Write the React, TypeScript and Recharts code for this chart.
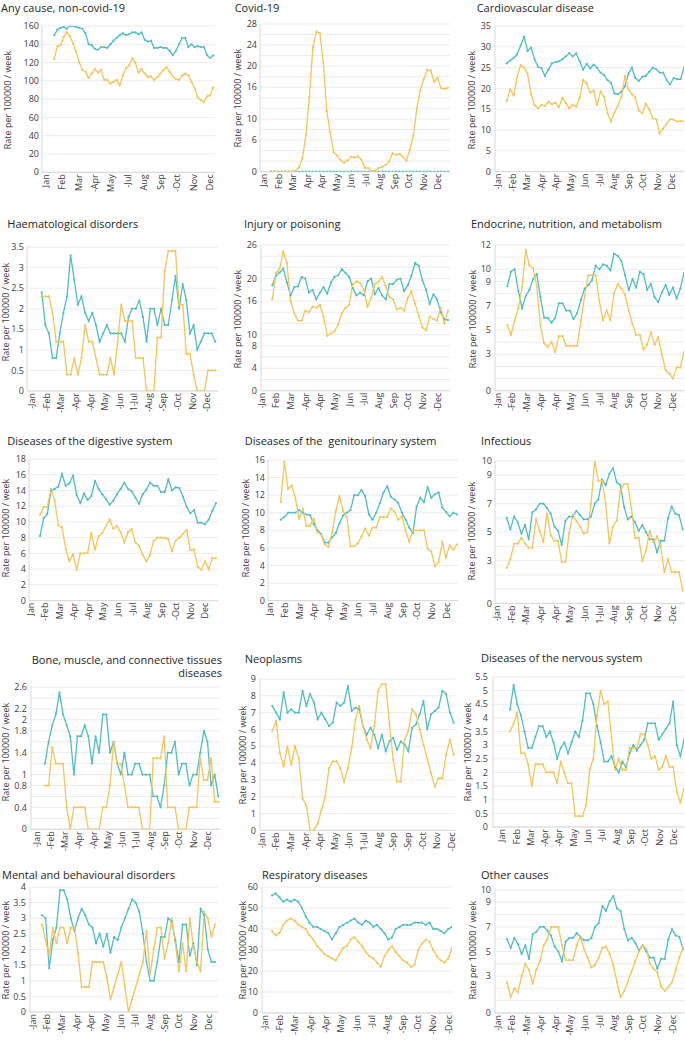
import React from "react";
import { LineChart, Line, XAxis, YAxis, CartesianGrid } from "recharts";

const TEAL = "#52BEC2";
const GOLD = "#F4C55C";
const FONT = "'Open Sans', 'Noto Sans', sans-serif";
const Y_LABEL = "Rate per 100000 / week";

// ---- data (weekly rates) ----
const anyCauseTeal = [150,156,158,159,157,160,160,159,158,157,152,140,139,135,134,137,137,136,140,144,147,150,152,150,151,153,153,151,153,145,143,144,136,136,137,136,136,133,128,133,140,147,147,137,140,137,138,137,137,128,125,128];
const anyCauseGold = [124,138,139,148,153,149,141,132,120,112,110,103,108,113,109,112,101,101,97,99,101,95,106,114,117,125,120,109,113,108,104,105,101,104,108,112,115,110,105,102,101,106,108,106,99,92,82,79,77,83,84,93];
const anyCauseTicks = [0,20,40,60,80,100,120,140,160];
const anyCauseMonths = ["Jan","Feb","Mar","-Apr","May","-Jul","Aug","Sep","-Oct","Nov","Dec"];

const covidTeal = [0,0,0,0,0,0,0,0,0,0,0,0,0,0,0,0,0,0,0,0,0,0,0,0,0,0,0,0,0,0,0,0,0,0,0,0,0,0,0,0,0,0,0,0,0,0,0,0,0,0,0,0];
const covidGold = [0,0,0,0,0,0,0,0.2,0.8,2.6,7,14.2,23.6,26.5,26.3,20.8,11.5,7.5,3.7,3.1,2.2,1.7,2.1,2.8,2.7,2.9,2.3,0.7,0.7,0.1,0.2,0.7,0.9,1.3,1.9,3.5,3.2,3.4,2.8,2.1,4.2,6.8,12,15.5,17.5,19.3,19.2,17,17.8,15.8,15.7,15.9];
const covidTicks = [0,6,10,16,20,24,28];
const covidMonths = ["Jan","Feb","Mar","Apr","Apr","May","Jun","-Jul","Aug","Sep","Oct","Nov","Dec"];

const cardioTeal = [26,26.7,27.3,28.2,30.3,32.4,29,29.8,27,25.2,24.9,23,24.5,26,26.3,26.5,27,27.7,28.5,27.7,28.4,26.5,24.5,25.9,24.8,25.7,25,23.8,23.2,22,21.3,18.8,18.6,19.2,20.5,23.5,25,22.5,21.8,22.8,23,24,25,24.6,23.8,23.8,22,21,22.5,22.2,22.2,25];
const cardioGold = [17,19.8,18.3,22.7,25.6,25,23.5,18.7,16,15.2,16,15.8,16.8,16.2,16.6,15.5,17.7,16.5,15.2,16,15.6,17.8,22,21.2,19,19.5,16,19.3,18,14,12,14.2,15.8,18,23,19.8,18.6,17.8,14.7,14,16.3,15,12.8,12.6,9.2,10.4,11.5,12.6,12.5,12,12.2,12];
const cardioTicks = [0,5,10,15,20,25,30,35];
const cardioMonths = ["-Jan","-Feb","Mar","-Apr","-Apr","May","Jun","-Jul","Aug","Sep","-Oct","Nov","Dec"];

const haemTeal = [2.4,1.6,1.4,0.8,0.8,1.4,1.9,2.3,3.3,2.7,2.1,2.3,1.9,1.7,1.9,1.6,1.2,1.4,1.6,1.4,1.4,1.4,1.4,1.2,1.8,2.0,2.0,2.2,1.8,1.2,2.0,2.0,1.6,2.0,1.6,1.6,2.2,2.8,2.0,2.6,2.2,1.4,1.6,1.0,1.2,1.4,1.4,1.4,1.2];
const haemGold = [2.3,2.3,2.3,1.9,1.2,1.2,1.2,0.4,0.4,0.8,0.4,0.8,1.6,1.2,1.2,0.8,0.4,0.4,0.4,0.8,0.4,1.2,2.1,1.7,1.7,1.7,0.8,0.8,0.8,0,0,0,1.3,1.3,2.9,3.4,3.4,3.4,2.1,2.1,0.9,0.9,0.4,0,0,0,0.5,0.5,0.5];
const haemTicks = [0,0.5,1,1.5,2,2.5,3,3.5];
const haemMonths = ["-Jan","-Feb","-Mar","-Apr","-Apr","May","-Jun","1-Jul","-Aug","-Sep","-Oct","Nov","-Dec"];

const injuryTeal = [18.8,20.5,21.1,21.8,19.3,17,18.5,18.6,20.3,20,17.5,18,16.3,17.5,18.5,17.3,19.3,20.3,20.6,21.7,21,20.3,18.3,17,17.5,17,19.5,20,17.2,18.3,17,16.3,19,19,19.8,20,17.8,18.8,20.5,22.8,22.3,19.7,18,15.5,17.2,16.3,14,12.8,12.6];
const injuryGold = [16.3,21,21.8,24.8,22.8,16,13.8,12.5,12.5,14.3,14,15,14.8,15.3,13.2,9.8,10.2,10.6,11.8,13.8,14.8,15.3,19,19.5,19.2,18,15,16.5,19,19.5,20.3,18.6,16.7,16.3,14.5,14.8,14.3,16.5,17.7,15.5,13.4,11.3,10.8,13.2,12.8,12.5,14.8,12,14.3];
const injuryTicks = [0,4,8,10,16,20,26];
const injuryMonths = ["-Jan","Feb","Mar","-Apr","-Apr","May","Jun","-Jul","Aug","Sep","-Oct","Nov","-Dec"];

const endoTeal = [8.6,9.8,10,8.2,6.8,7.8,8.3,9.2,9.6,7.7,6,6,5.6,6,7.2,7.2,6.6,6.6,5.9,6.4,7.5,8.4,8.7,9.1,10.3,10,10.4,10.3,9.9,11.3,11.1,10.7,9.5,8.3,9.2,8.5,9.8,9.6,8.3,8.8,7.7,7.3,8.1,8.7,7.9,8.5,7.6,8.4,9.7];
const endoGold = [5.4,4.6,5.8,6.8,8.5,11.6,10.3,10.1,8.6,5.4,3.9,3.6,4,3.2,4.5,4.5,3.7,3.7,3.7,3.7,5.8,7.8,9.5,9.5,9.5,7.4,5.8,6.6,5.8,8,8.8,8.4,7.9,6.6,5.5,4.6,4.6,3.4,3.8,4.8,3.8,4.4,3,1.7,1.4,1,1.9,1.9,3.2];
const endoTicks = [0,3,5,7,9,10,12];
const endoMonths = ["-Jan","-Feb","-Mar","-Apr","-Apr","May","Jun","-Jul","Aug","Sep","-Oct","Nov","-Dec"];

const digestTeal = [8.2,10.5,11,14,14.2,14.5,16.1,14.6,14.9,15.9,13.4,12.4,13.6,12.8,13.3,15.2,14.2,13.5,12.9,12.2,12.7,13.5,14.2,15,14.2,13.9,13.1,12.3,13.5,14.1,15,14.6,14.6,13.8,13.8,15.4,14,14.4,14.3,13.2,11.9,11.1,11.5,9.9,9.9,9.7,10.3,11.4,12.4];
const digestGold = [10.9,11.9,11.9,14.2,12.7,9.6,9.3,6.6,5,5.9,3.9,6,6,6.1,8.6,6.5,8.2,8.6,9.5,10.3,9.1,9.5,8.7,7.4,8.7,9.1,7.4,7,5.8,5,5.8,7.6,8,8,8,7.8,6.3,7.6,8,8.5,9,6.4,6.5,4.3,3.9,5,4,5.4,5.4];
const digestTicks = [0,2,4,6,8,10,12,14,16,18];
const digestMonths = ["Jan","-Feb","Mar","-Apr","-Apr","May","Jun","-Jul","Aug","Sep","-Oct","Nov","Dec"];

const genitoTeal = [9.2,9.5,10,10,10,10.3,10,9.8,9.7,8.7,8,7.6,6.6,6.6,7.2,7.7,8.8,9.7,10,10.3,12,12,12.6,11.9,9.8,9.2,10,11.1,12.3,13,11.8,11.5,11.1,10,9.2,8.3,7.7,10.7,11.7,11.2,12.9,11.7,12.1,12.3,10.6,10.1,9.6,10,9.8];
const genitoGold = [11.2,15.8,12.7,13.1,11.7,9.3,10.4,8.5,8.5,9.3,7.8,7.5,6.4,6.1,7.7,10.2,11.9,10.2,9.5,6.2,6.2,6.5,7.3,8.2,7.4,8.3,8.3,9.5,9.5,9.5,10.5,10.1,9.2,9.6,8,6.7,8,8,8,8,5.9,5.6,3.9,4.4,6.7,4.9,6.3,5.8,6.4];
const genitoTicks = [0,2,4,6,8,10,12,14,16];
const genitoMonths = ["Jan","Feb","Mar","-Apr","-Apr","May","Jun","-Jul","Aug","Sep","-Oct","Nov","Dec"];

const infectTeal = [6,5.2,6.1,5.7,4.9,5.5,4.5,6.4,6.6,7,7,6.7,6.3,5.4,5.1,4.1,5.8,6.1,6.1,6.5,6.2,5.9,5.9,6.1,7,7.3,8.7,8.3,9.1,9.5,8.5,8.3,6.8,5.9,6.1,5.7,5.1,5.5,5,4.5,4.5,3.6,4.4,4.4,6,6.8,6.3,6.2,5.2];
const infectGold = [2.5,3.1,4.2,4.2,4.6,4.2,3.9,3.9,5.9,5.1,4.3,6.3,4.8,4.4,4.4,2.9,2.9,4.9,6.2,5.8,5.4,4.9,5,7,10,8.6,8.6,7,4.2,5.4,5.8,7.9,8.4,8.4,6.7,4.6,4.6,3,3.7,5.1,4.3,4.7,4,2.2,3.1,2.2,2.2,2.2,0.9];
const infectTicks = [0,3,5,7,9,10];
const infectMonths = ["-Jan","-Feb","-Mar","-Apr","-Apr","May","-Jun","1-Jul","-Aug","-Sep","-Oct","Nov","-Dec"];

const boneTeal = [1.2,1.6,1.9,2.1,2.5,2.1,1.9,1.7,1,1.7,1.7,1.9,1.7,1.2,1.7,1.4,2.1,2.1,1.4,1.6,1.2,1,1.4,1,1,1.2,1.2,1,1,1,0.6,0.6,0.4,0.8,1.4,1.4,1.6,1,1.2,1.2,0.8,1,1,1.4,1.8,1.6,0.8,1,0.6];
const boneGold = [0.8,0.8,1.5,1.2,1.2,1.2,0.4,0,0.4,0.4,0.4,0.4,0,0,0,0,0.4,0.4,0.8,1.6,1.2,1.2,0.8,0.4,0.4,0.4,0.4,0,0,0,1.3,1.3,1.3,1.7,0.4,0.4,0.4,0,0,0,0.4,0.4,0.4,1.3,0.9,0.9,1.3,0.5,0.5];
const boneTicks = [0,0.4,0.8,1,1.4,1.8,2,2.2,2.6];
const boneMonths = ["-Jan","-Feb","-Mar","-Apr","-Apr","May","-Jun","1-Jul","-Aug","-Sep","-Oct","Nov","-Dec"];

const neoTeal = [7.4,7,6.6,8.2,7,7.2,7,7,8.3,7.4,8.1,7.6,6.6,7,6.6,6.2,6.4,7.6,7.4,7.6,8.6,7.1,7.3,7.2,6.2,5.7,6.1,5.7,4.9,5.7,4.7,5.3,5.5,4.8,5.3,5.1,4.7,6.1,6.3,6.9,7.7,6,6.9,7.1,7.3,8.3,8.1,7,6.4];
const neoGold = [5.9,6.5,4.6,3.8,5,3.9,5,4.3,1.9,1.5,0,0,0.4,1.2,2,3.7,4.1,4.1,3.7,2.9,3.7,4.9,6.6,7.4,6.2,5.4,4.9,6.2,8.3,8.7,8.7,6.3,4.2,2.9,2.9,5.4,5.9,7.2,6.9,6,5.1,4.3,3.4,2.6,3.1,3.1,4.5,5.4,4.5];
const neoTicks = [0,1,2,3,4,5,6,7,8,9];
const neoMonths = ["-Jan","-Feb","-Mar","-Apr","-Apr","May","-Jun","1-Jul","Aug","-Sep","-Sep","-Oct","Nov","-Dec"];

const nervTeal = [4.3,5.2,4.5,4.1,3.5,2.9,2.9,3.3,3.7,3.7,3.3,3.5,3.1,2.5,2.9,3.1,2.7,3.1,3.5,3.3,3.9,4.9,4.9,4.5,3.7,3.1,2.4,2.4,2.6,2.2,2,2.4,2.2,2.7,3,2.8,3,3.2,3.8,3.8,3.8,3.2,3.4,3.6,3.8,4.6,3,2.6,3.2];
const nervGold = [3.5,3.8,4.2,2.7,2.7,2.3,1.5,2.3,2.3,2.3,2,2,2,1.6,2.4,2,1.6,1.6,0.4,0.4,0.4,0.8,2.1,2.5,4.1,5,4.5,4.6,3.3,2.1,2.5,2.1,2.1,2.9,2.9,2.9,3.4,3.4,3,2.5,2.6,2.1,2.2,2.6,2.2,2.2,1.3,0.9,1.4];
const nervTicks = [0,0.5,1,1.5,2,2.5,3,3.5,4,4.5,5,5.5];
const nervMonths = ["Jan","Feb","Mar","-Apr","-Apr","May","Jun","-Jul","Aug","Sep","-Oct","Nov","Dec"];

const mentalTeal = [3.1,3.0,1.4,2.3,2.7,3.9,3.9,3.6,3.0,2.6,3.0,3.3,3.1,2.8,2.7,2.2,2.5,2.1,2.5,1.9,2.4,2.3,2.7,3.0,3.3,3.6,3.5,3.2,2.5,1.6,1.0,1.0,1.6,2.4,2.4,3.0,2.9,2.3,1.6,2.8,2.8,1.8,2.2,1.5,3.3,3.1,2.0,1.6,1.6];
const mentalGold = [2.8,2.3,1.8,2.7,2.2,2.7,2.7,2.2,2.7,2.7,1.9,0.8,0.8,0.8,1.6,1.6,1.6,1.6,1.1,0.4,0.8,1.2,1.6,0.8,0,0.4,0.8,1.2,1.6,2.6,1.2,2.0,2.7,2.7,1.7,2.2,3.0,2.2,1.3,2.2,1.3,3.0,2.1,1.6,1.3,3.2,3.0,2.4,2.8];
const mentalTicks = [0,0.5,1,1.5,2,2.5,3,3.5,4];
const mentalMonths = ["-Jan","-Feb","-Mar","-Apr","-Apr","May","Jun","-Jul","Aug","-Sep","Oct","Nov","Dec"];

const respTeal = [56,57,55,53,54,53,54,53,50,46,43,41,41,40,39,38,35,38,41,42,43,44,45,43,42,44,43,41,42,40,38,35,36,40,41,42,42,42,43,43,43,42,43,40,40,39,38,40,41];
const respGold = [39,37,38,42,44,45,44,42,41,40,37,35,32,30,28,27,26,25,28,31,32,35,36,34,32,29,27,26,24,22,27,30,32,29,27,25,24,22,23,30,33,35,34,30,27,25,24,26,31];
const respTicks = [0,10,20,30,40,50,60];
const respMonths = ["-Jan","-Feb","-Mar","-Apr","-Apr","May","-Jun","-Jul","-Aug","-Sep","-Oct","-Nov","-Dec"];

const otherTeal = [6,5.3,6.1,5.6,4.8,5.5,4.4,6.4,6.6,7,7,6.7,6.3,5.4,5,4.2,5.8,6.1,6.1,6.5,6.2,5.9,5.9,6.1,7,7.3,8.7,8.3,9.1,9.5,8.5,8.3,6.8,5.9,6.1,5.7,5.1,5.5,5,4.5,4.5,3.6,4.4,4.4,6,6.8,6.3,6.2,5.2];
const otherGold = [2.5,1.3,2.0,1.7,3.0,4.0,3.5,2.4,3.5,4.2,5.5,6.0,7.0,7.0,7.0,5.5,4.3,4.3,4.3,5.5,6.2,5.2,4.5,3.7,3.9,4.5,5.3,5.4,4.8,3.9,2.5,1.3,1.8,2.6,3.4,4.2,5.0,5.5,5.2,4.0,3.6,3.3,2.2,1.8,2.1,2.5,3.5,4.5,5.3];
const otherTicks = [0,3,5,7,9,10];
const otherMonths = ["-Jan","-Feb","-Mar","-Apr","-Apr","-May","-Jun","-Jul","Aug","-Sep","-Oct","-Nov","-Dec"];

const PANELS = [
  { title: ["Any cause, non-covid-19"], teal: anyCauseTeal, gold: anyCauseGold, yTicks: anyCauseTicks, months: anyCauseMonths, gridStep: 20 },
  { title: ["Covid-19"], teal: covidTeal, gold: covidGold, yTicks: covidTicks, months: covidMonths, gridStep: 2 },
  { title: ["Cardiovascular disease"], teal: cardioTeal, gold: cardioGold, yTicks: cardioTicks, months: cardioMonths, gridStep: 5 },
  { title: ["Haematological disorders"], teal: haemTeal, gold: haemGold, yTicks: haemTicks, months: haemMonths, gridStep: 0.5 },
  { title: ["Injury or poisoning"], teal: injuryTeal, gold: injuryGold, yTicks: injuryTicks, months: injuryMonths, gridStep: 2 },
  { title: ["Endocrine, nutrition, and metabolism"], teal: endoTeal, gold: endoGold, yTicks: endoTicks, months: endoMonths, gridStep: 1 },
  { title: ["Diseases of the digestive system"], teal: digestTeal, gold: digestGold, yTicks: digestTicks, months: digestMonths, gridStep: 2 },
  { title: ["Diseases of the  genitourinary system"], teal: genitoTeal, gold: genitoGold, yTicks: genitoTicks, months: genitoMonths, gridStep: 2 },
  { title: ["Infectious"], teal: infectTeal, gold: infectGold, yTicks: infectTicks, months: infectMonths, gridStep: 1 },
  { title: ["Bone, muscle, and connective tissues", "diseases"], teal: boneTeal, gold: boneGold, yTicks: boneTicks, months: boneMonths, gridStep: 0.2 },
  { title: ["Neoplasms"], teal: neoTeal, gold: neoGold, yTicks: neoTicks, months: neoMonths, gridStep: 1 },
  { title: ["Diseases of the nervous system"], teal: nervTeal, gold: nervGold, yTicks: nervTicks, months: nervMonths, gridStep: 0.5 },
  { title: ["Mental and behavioural disorders"], teal: mentalTeal, gold: mentalGold, yTicks: mentalTicks, months: mentalMonths, gridStep: 0.5 },
  { title: ["Respiratory diseases"], teal: respTeal, gold: respGold, yTicks: respTicks, months: respMonths, gridStep: 10 },
  { title: ["Other causes"], teal: otherTeal, gold: otherGold, yTicks: otherTicks, months: otherMonths, gridStep: 1 },
];

// page layout in px: plot rect [l,t,r,b], first/last point x, first/last month tick x,
// title pos, y-label centre, gap between tick labels and axis
const LAYOUT = [
  { plot: [42, 25.7, 215, 172], data: [54.3, 213.3], ticks: [45, 210], title: [1, 7.5], ylab: [8, 100], gap: 3 },
  { plot: [260, 24.3, 450, 172], data: [271.3, 448], ticks: [263.7, 438], title: [234.7, 7.5], ylab: [238, 98], gap: 3 },
  { plot: [495, 25.7, 684, 171.3], data: [506.7, 684], ticks: [497.7, 672], title: [476.7, 7.5], ylab: [472, 100], gap: 4 },
  { plot: [27, 247, 218, 391], data: [41.7, 215.3], ticks: [31.7, 206.7], title: [7.3, 223.7], ylab: [6, 312], gap: 3 },
  { plot: [261, 245.3, 450, 391], data: [272.3, 448], ticks: [261.3, 437.3], title: [244, 224], ylab: [238, 319], gap: 4 },
  { plot: [495, 245.3, 684, 391], data: [507.3, 684], ticks: [497, 672.3], title: [471, 224], ylab: [473, 319], gap: 4 },
  { plot: [29, 458.7, 218, 600.3], data: [40, 216], ticks: [30, 205], title: [7.3, 440.7], ylab: [6, 528], gap: 3 },
  { plot: [268, 459.7, 458, 600.3], data: [280.7, 457], ticks: [269.7, 446.3], title: [244.7, 440.7], ylab: [246, 528], gap: 3 },
  { plot: [495, 461.3, 684, 603.7], data: [506.7, 682.7], ticks: [496.7, 672.3], title: [481, 440.7], ylab: [472, 531], gap: 3 },
  { plot: [31, 686.7, 220, 829], data: [45, 218.3], ticks: [36, 207.3], title: [222, 660], ylab: [6, 752], gap: 4, right: true },
  { plot: [260, 679.3, 455, 830.7], data: [272.3, 453.7], ticks: [261.3, 451.3], title: [244.7, 658.7], ylab: [243, 755], gap: 4 },
  { plot: [493, 677.3, 684, 827.3], data: [510, 684], ticks: [501.7, 673.3], title: [481, 658.3], ylab: [468, 751.7], gap: 5 },
  { plot: [30, 887, 218, 1012], data: [42, 215], ticks: [32, 208], title: [2, 875], ylab: [6, 950], gap: 4 },
  { plot: [262, 887, 452, 1013], data: [272, 452], ticks: [264, 448], title: [262, 875], ylab: [243, 950], gap: 4 },
  { plot: [495, 890, 684, 1013], data: [507, 683], ticks: [497, 672], title: [481, 875], ylab: [473, 950], gap: 4 },
];

function MonthTick(props: any) {
  const { x, y, index, labels } = props;
  return (
    <text x={x} y={y} transform={`rotate(-90 ${x} ${y})`} textAnchor="end" dominantBaseline="central"
      fontSize={9} fill="#404040" fontFamily={FONT}>
      {labels[index]}
    </text>
  );
}

function SmallChart({ p, box }: { p: any; box: any }) {
  const [pl, pt, pr, pb] = box.plot;
  const [f, l] = box.data;
  const n = Math.max(p.teal.length, p.gold.length);
  const u = (l - f) / (n - 1);
  const d0 = (pl - f) / u;
  const d1 = (pr - f) / u;
  const m = p.months.length;
  const ticks = p.months.map((_: string, k: number) => {
    const px = box.ticks[0] + (k * (box.ticks[1] - box.ticks[0])) / (m - 1);
    return Math.min(d1, Math.max(d0, (px - f) / u));
  });
  const rows = Array.from({ length: n }, (_, i) => ({ x: i, teal: p.teal[i], gold: p.gold[i] }));
  const yMax = p.yTicks[p.yTicks.length - 1];
  const grid: number[] = [];
  for (let v = 0; v <= yMax + 1e-9; v += p.gridStep) grid.push(+v.toFixed(3));
  const YW = 40, MT = 8, XH = 30, MR = 2;

  return (
    <div style={{ position: "absolute", left: pl - YW, top: pt - MT }}>
      <LineChart width={pr - pl + YW + MR} height={pb - pt + MT + XH} data={rows}
        margin={{ top: MT, right: MR, bottom: 0, left: 0 }} style={{ overflow: "visible" }}>
        <CartesianGrid vertical={false} stroke="#ececec" horizontalValues={grid} />
        <XAxis type="number" dataKey="x" domain={[d0, d1]} ticks={ticks} interval={0} height={XH}
          tickSize={0} tickMargin={2} tickLine={false} axisLine={{ stroke: "#d9d9d9" }}
          tick={<MonthTick labels={p.months} />} allowDataOverflow />
        <YAxis type="number" domain={[0, yMax]} ticks={p.yTicks} interval={0} width={YW}
          tickSize={0} tickMargin={box.gap} tickLine={false} axisLine={{ stroke: "#d9d9d9" }}
          tick={{ fontSize: 9, fill: "#404040", fontFamily: FONT }} allowDataOverflow />
        <Line type="linear" dataKey="teal" stroke={TEAL} strokeWidth={1.3}
          dot={{ r: 1.1, fill: TEAL, stroke: "none" }} activeDot={false} isAnimationActive={false} />
        <Line type="linear" dataKey="gold" stroke={GOLD} strokeWidth={1.3}
          dot={{ r: 1.1, fill: GOLD, stroke: "none" }} activeDot={false} isAnimationActive={false} />
      </LineChart>
    </div>
  );
}

export default function App() {
  return (
    <div style={{ position: "absolute", left: 0, top: 0, width: 685, height: 1061, background: "#fff", fontFamily: FONT, overflow: "hidden" }}>
      {PANELS.map((p, i) => {
        const box = LAYOUT[i];
        return (
          <React.Fragment key={i}>
            <SmallChart p={p} box={box} />
            {p.title.map((t, j) =>
              box.right ? (
                <div key={j} style={{ position: "absolute", left: 0, width: box.title[0], top: box.title[1] - 7 + j * 13, textAlign: "right", fontSize: 11, lineHeight: "14px", color: "#262626", whiteSpace: "pre" }}>{t}</div>
              ) : (
                <div key={j} style={{ position: "absolute", left: box.title[0], top: box.title[1] - 7 + j * 13, fontSize: 11, lineHeight: "14px", color: "#262626", whiteSpace: "pre" }}>{t}</div>
              )
            )}
            <div style={{ position: "absolute", left: box.ylab[0], top: box.ylab[1], transform: "translate(-50%, -50%) rotate(-90deg)", fontSize: 9, lineHeight: "10px", color: "#404040", whiteSpace: "nowrap" }}>
              {Y_LABEL}
            </div>
          </React.Fragment>
        );
      })}
    </div>
  );
}
